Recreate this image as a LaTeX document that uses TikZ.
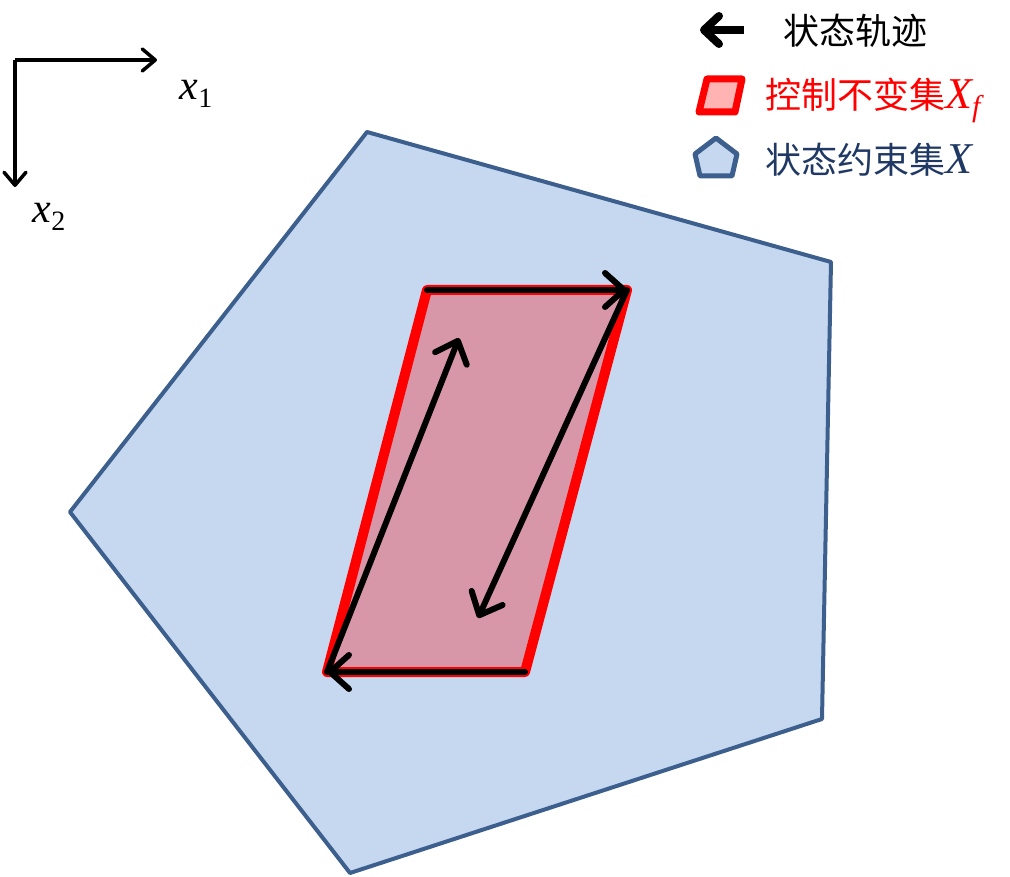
\documentclass[tikz,border=0pt]{standalone}
\usepackage{fontspec}
\newfontfamily\cjk{Noto Sans CJK SC}
\newfontfamily\lsr{Liberation Serif}
\usetikzlibrary{arrows.meta}
\definecolor{penfill}{HTML}{C5D8F0}
\definecolor{penline}{HTML}{3C5F8E}
\definecolor{parfill}{HTML}{D897A8}
\definecolor{iconfill}{HTML}{FFB3B3}
\definecolor{navy}{HTML}{1F3864}
\newcommand{\varit}[1]{{\lsr\itshape #1}}
\newcommand{\subsc}[1]{\raisebox{-8pt}{\fontsize{28}{28}\selectfont #1}}
\tikzset{
  pent/.style={fill=penfill, draw=penline, line width=4pt, line join=round},
  parset/.style={fill=parfill, draw=red, line width=10pt, line join=round},
  traj/.style={line width=6pt, line cap=round, -{Straight Barb[round,length=19pt,width=34pt]}},
  axis/.style={line width=3.5pt, -{Straight Barb[round,length=13pt,width=22pt]}},
  lbl/.style={inner sep=0pt, font=\fontsize{42}{46}\selectfont\lsr},
  legtxt/.style={inner sep=0pt, anchor=west, font=\fontsize{36}{42}\selectfont\cjk},
}
\begin{document}
\begin{tikzpicture}[x=1pt,y=-1pt]
\useasboundingbox (0,0) rectangle (1010,877);
% constraint set pentagon
\coordinate (P1) at (367,132);
\coordinate (P2) at (831,262);
\coordinate (P3) at (822,719);
\coordinate (P4) at (350,873);
\coordinate (P5) at (70,512);
\draw[pent] (P1) -- (P2) -- (P3) -- (P4) -- (P5) -- cycle;
% invariant set parallelogram
\coordinate (A) at (427,290);
\coordinate (B) at (627,290);
\coordinate (C) at (525,672);
\coordinate (D) at (327,672);
\draw[parset] (A) -- (B) -- (C) -- (D) -- cycle;
% trajectories
\coordinate (E) at (478,618);
\coordinate (F) at (459,338);
\draw[traj] (A) -- (B);
\draw[traj] (B) -- (E);
\draw[traj] (C) -- (D);
\draw[traj] (D) -- (F);
% axes
\coordinate (O) at (15,60);
\coordinate (X1) at (157,60);
\coordinate (X2) at (15,187);
\draw[axis] (O) -- (X1);
\draw[axis] (O) -- (X2);
\node[lbl] (x1) at (196,94) {\varit{x}\subsc{1}};
\node[lbl] (x2) at (49,217) {\varit{x}\subsc{2}};
% legend
\coordinate (L1) at (744,30);
\coordinate (L2) at (700,30);
\draw[line width=8pt, -{Straight Barb[round,length=15pt,width=28pt]}] (L1) -- (L2);
\node[legtxt] (t1) at (783,31) {状态轨迹};
\draw[fill=iconfill, draw=red, line width=7pt, line join=round]
  (707,79) -- (742,79) -- (735,112) -- (699,112) -- cycle;
\node[legtxt, text=red] (t2) at (765,100) {控制不变集{\fontsize{44}{44}\selectfont\lsr\itshape X\raisebox{-8pt}{\fontsize{30}{30}\selectfont f}}};
\draw[pent, line width=5pt] (716,138) -- (737,154) -- (732,176) -- (700,176) -- (695,154) -- cycle;
\node[legtxt, text=navy] (t3) at (765,160) {状态约束集{\fontsize{44}{44}\selectfont\lsr\itshape X}};
\end{tikzpicture}
\end{document}
